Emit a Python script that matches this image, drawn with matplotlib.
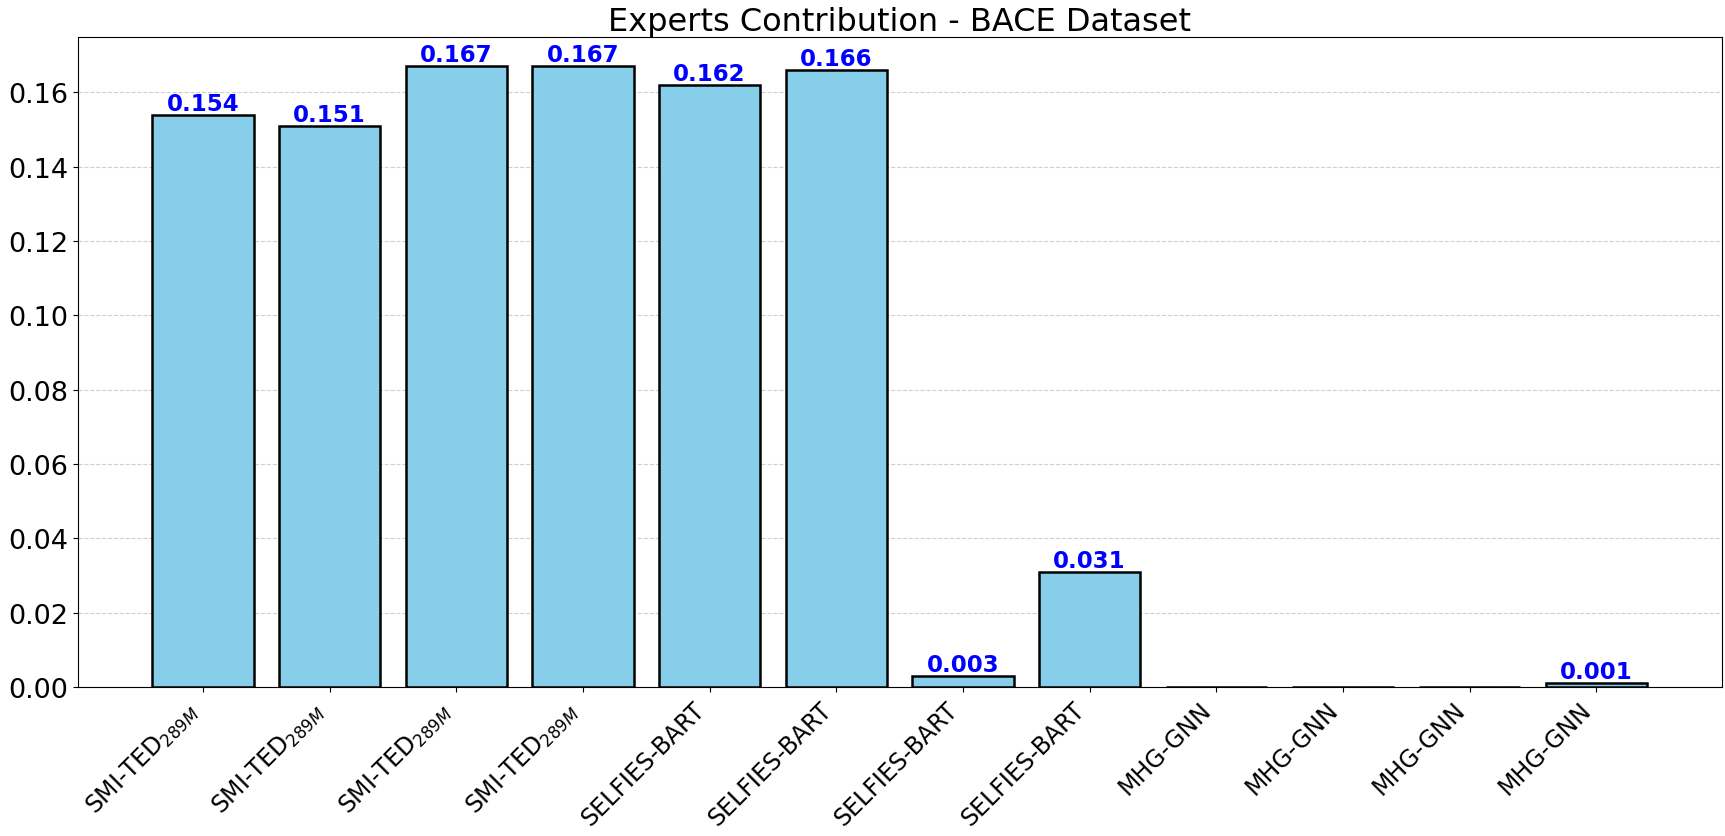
import matplotlib
matplotlib.use('Agg')
import matplotlib.pyplot as plt

experts = [r'SMI-TED$_{289M}$'] * 4 + ['SELFIES-BART'] * 4 + ['MHG-GNN'] * 4
weights = [0.154, 0.151, 0.167, 0.167, 0.162, 0.166, 0.003, 0.031, 0.0, 0.0, 0.0, 0.001]

fig, ax = plt.subplots(figsize=(17.25, 8.37), dpi=100)
bars = ax.bar(range(len(weights)), weights, color='skyblue', edgecolor='black', linewidth=1.8)

# only label bars with a non-zero weight
for b, w in zip(bars, weights):
    if w > 0:
        ax.text(b.get_x() + b.get_width() / 2, b.get_height(), f'{w:.3f}',
                ha='center', va='bottom', color='blue', fontweight='bold', fontsize=16.5)

ax.set_xticks(range(len(weights)))
ax.set_xticklabels(experts, rotation=45, ha='right', fontsize=17)
ax.tick_params(axis='y', labelsize=19.5)
ax.set_ylim(0, max(weights) * 1.048)
ax.yaxis.grid(True, linestyle='--', alpha=0.6)
ax.set_axisbelow(True)
ax.set_title('Experts Contribution - BACE Dataset', fontsize=23, pad=1)

plt.subplots_adjust(left=0.045, right=0.998, top=0.955, bottom=0.178)
plt.savefig('out.png')
